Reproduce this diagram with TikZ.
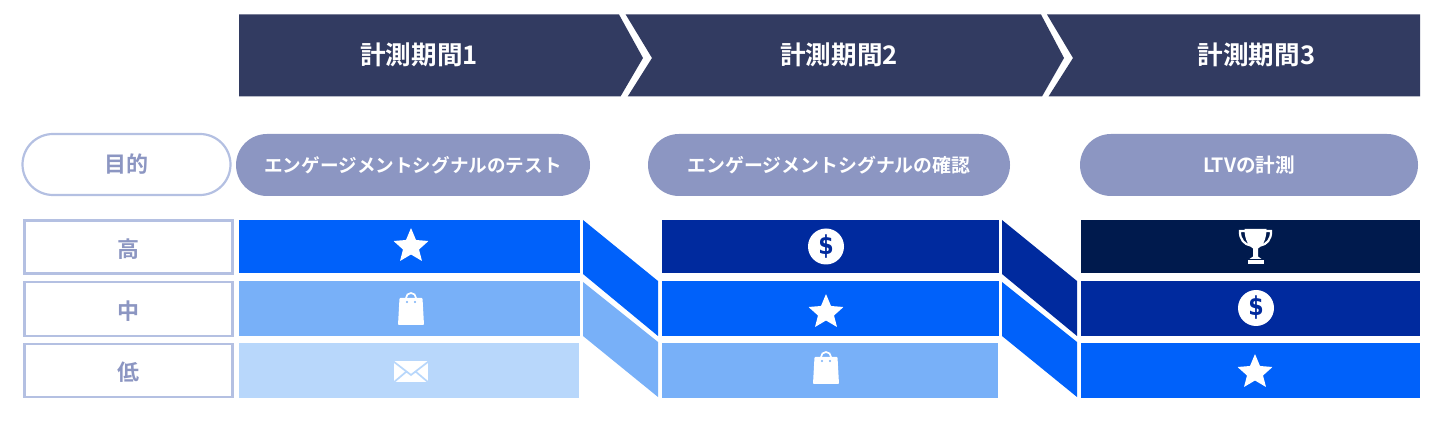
\documentclass[tikz,border=0pt]{standalone}
\usepackage{fontspec}
\setmainfont{Noto Sans CJK JP}[BoldFont={Noto Sans CJK JP Bold}]
\newfontfamily\coinfont{DejaVu Sans}[BoldFont={DejaVu Sans Bold}]
\definecolor{navybar}{HTML}{323B61}
\definecolor{tierblue}{HTML}{0061FA}
\definecolor{tierlight}{HTML}{78B0F8}
\definecolor{tierpale}{HTML}{B8D7FB}
\definecolor{tierdark}{HTML}{002A9E}
\definecolor{tierdeep}{HTML}{001A4D}
\definecolor{pillfill}{HTML}{8C96C2}
\definecolor{edgeline}{HTML}{B4C0E2}
\tikzset{
  x=1pt,y=-1pt,
  barlabel/.style={text=white,font=\bfseries\fontsize{25.6}{26}\selectfont,inner sep=0pt},
  pillbox/.style={fill=pillfill,text=white,rounded corners=31pt,minimum height=62pt,inner sep=0pt,font=\bfseries\fontsize{18.9}{20}\selectfont},
  outlinepill/.style={draw=edgeline,line width=2.2pt,fill=white,text=pillfill,rounded corners=30.5pt,minimum width=208pt,minimum height=61pt,inner sep=0pt,font=\bfseries\fontsize{22}{22}\selectfont},
  levelbox/.style={draw=edgeline,line width=2.4pt,fill=white,text=pillfill,minimum width=208pt,inner sep=0pt,text height=21pt,text depth=0pt,font=\bfseries\fontsize{22}{22}\selectfont},
}
% icons, drawn in reference pixels about a centre point
\newcommand{\iconstar}[2]{\begin{scope}[shift={(#1,#2)}]
  \fill[white,rounded corners=0.4pt] (0,-18) -- (5,-6) -- (17.5,-5) -- (8,3.5) -- (11,15) -- (0,8.5) -- (-11,15) -- (-8,3.5) -- (-17.5,-5) -- (-5,-6) -- cycle;
\end{scope}}
\newcommand{\iconbag}[3]{\begin{scope}[shift={(#1,#2)}]
  \draw[white,line width=1.7pt] (-5,-11) arc[start angle=180,end angle=0,x radius=5,y radius=-5] -- (5,-10);
  \fill[white,rounded corners=0.8pt] (-11.5,-11) -- (11.5,-11) -- (13,16) -- (-13,16) -- cycle;
  \fill[#3] (-4,-7) circle[radius=1.2] (4,-7) circle[radius=1.2];
\end{scope}}
\newcommand{\iconmail}[2]{\begin{scope}[shift={(#1,#2)}]
  \fill[white] (-17,-10.5) rectangle (17,10.5);
  \draw[tierpale,line width=1.7pt] (-17.5,-10.5) -- (0,3) -- (17.5,-10.5) (-17.5,10.5) -- (-4.5,-0.5) (17.5,10.5) -- (4.5,-0.5);
\end{scope}}
\newcommand{\iconcoin}[4]{\fill[white] (#1,#2) circle[radius=18];
  \node[text=#3,inner sep=0pt,xscale=0.85,font=\coinfont\bfseries\fontsize{26}{26}\selectfont] (#4) at (#1,#2) {\$};}
\newcommand{\icontrophy}[2]{\begin{scope}[shift={(#1,#2)}]
  \draw[white,line width=2.2pt] (-9,-15.5) -- (-15.5,-15.5) .. controls (-16,-7) and (-11,-2) .. (-5,-1);
  \draw[white,line width=2.2pt] (9,-15.5) -- (15.5,-15.5) .. controls (16,-7) and (11,-2) .. (5,-1);
  \fill[white] (-11,-17.5) -- (11,-17.5) .. controls (11,-7) and (7,0) .. (2.5,2) -- (2.5,10) -- (6,12.5) -- (-6,12.5) -- (-2.5,10) -- (-2.5,2) .. controls (-7,0) and (-11,-7) .. (-11,-17.5) -- cycle;
  \fill[white] (-8,13.5) rectangle (8,17.5);
\end{scope}}
\begin{document}
\begin{tikzpicture}
\useasboundingbox (0,0) rectangle (1440,427);
% period bars
\fill[navybar] (239,14.5) -- (619,14.5) -- (643,58) -- (620.5,96.5) -- (239,96.5) -- cycle;
\fill[navybar] (625.7,14.5) -- (1041,14.5) -- (1064,58) -- (1042,96.5) -- (627.7,96.5) -- (652,58) -- cycle;
\fill[navybar] (1047,14.5) -- (1420,14.5) -- (1420,96.5) -- (1048.5,96.5) -- (1073,58) -- cycle;
\node[barlabel] (period1) at (419,55) {計測期間1};
\node[barlabel] (period2) at (839,55) {計測期間2};
\node[barlabel] (period3) at (1256.5,55) {計測期間3};
% purpose row
\node[outlinepill] (purpose) at (126.5,164.5) {目的};
\node[pillbox,minimum width=354pt,font=\bfseries\fontsize{18.6}{20}\selectfont] (goal1) at (413,165) {\hspace{0pt}エンゲージメントシグナルのテスト};
\node[pillbox,minimum width=362pt] (goal2) at (829,165) {エンゲージメントシグナルの確認};
\node[pillbox,minimum width=338pt,font=\bfseries\fontsize{19.6}{20}\selectfont] (goal3) at (1249,165) {LTVの計測};
% level labels
\node[levelbox,minimum height=53pt] (high) at (128.5,247) {高};
\node[levelbox,minimum height=54pt] (mid) at (128.5,309) {中};
\node[levelbox,minimum height=53pt] (low) at (128.5,370.5) {低};
% tiers
\fill[tierblue] (239,220) rectangle (580,273.5);
\fill[tierlight] (239,281) rectangle (580,336);
\fill[tierpale] (239,343.5) rectangle (579,397.5);
\fill[tierdark] (662,220) rectangle (999,273.5);
\fill[tierblue] (662,281) rectangle (999,336);
\fill[tierlight] (662,343.5) rectangle (998,397.5);
\fill[tierdeep] (1081,220) rectangle (1420,273.5);
\fill[tierdark] (1081,281) rectangle (1420,336);
\fill[tierblue] (1081,343.5) rectangle (1420,397.5);
% slanted links
\fill[tierblue] (583,220) -- (658,281) -- (658,336) -- (583,274) -- cycle;
\fill[tierlight] (583,282) -- (658,342) -- (658,397) -- (583,336) -- cycle;
\fill[tierdark] (1002,220) -- (1077,281) -- (1077,336) -- (1002,274) -- cycle;
\fill[tierblue] (1002,282) -- (1077,342) -- (1077,397) -- (1002,336) -- cycle;
% icons
\iconstar{411}{246}
\iconbag{411}{309}{tierlight}
\iconmail{411}{372}
\iconcoin{826}{246.5}{tierdark}{coinA}
\iconstar{826}{312}
\iconbag{826}{368}{tierlight}
\icontrophy{1255.5}{246.5}
\iconcoin{1256}{308}{tierdark}{coinB}
\iconstar{1255}{372}
\end{tikzpicture}
\end{document}
